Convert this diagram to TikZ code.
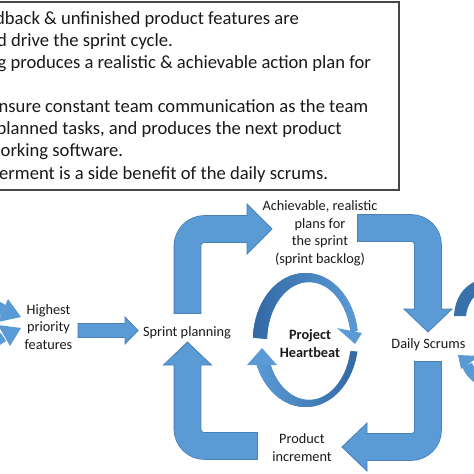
\documentclass[tikz,border=0pt]{standalone}
\usepackage{fontspec}
\setmainfont{Carlito}
\definecolor{blk}{RGB}{91,155,213}
\definecolor{blkedge}{RGB}{72,128,182}
\definecolor{blkdark}{RGB}{50,104,163}
\definecolor{boxline}{RGB}{70,70,70}
\definecolor{txt}{RGB}{25,25,25}
\tikzset{
  bandedge/.style={draw=blkedge, line width=27.6pt, rounded corners=17pt, line cap=butt, shorten <=-0.8pt},
  bandfill/.style={draw=blk, line width=26pt, rounded corners=17pt, line cap=butt, shorten >=-2pt},
  headfill/.style={fill=blk, draw=blkedge, line width=0.8pt},
  plainfill/.style={fill=blk},
  lbl/.style={font=\fontsize{14.3}{17.5}\selectfont, text=txt, align=center, inner sep=0pt, anchor=base},
  boldlbl/.style={lbl, font=\fontsize{14.3}{17.5}\selectfont\bfseries},
  boxtxt/.style={font=\fontsize{18.6}{22}\selectfont, text=txt, inner sep=0pt, anchor=base west},
  textbox/.style={draw=boxline, line width=2pt},
}
\begin{document}
\begin{tikzpicture}[x=1pt,y=-1pt]
\useasboundingbox (0,0) rectangle (474,474);
\clip (0,0) rectangle (474,474);

% ---------- text box ----------
\draw[textbox] (-20,1.5) rectangle (399,190);
\node[boxtxt] (t1) at (-5,24)    {dback \& unfinished product features are};
\node[boxtxt] (t2) at (-3,46)    {d drive the sprint cycle.};
\node[boxtxt] (t3) at (-2.5,68.3){g produces a realistic \& achievable action plan for};
\node[boxtxt] (t4) at (-1.5,112.7){nsure constant team communication as the team};
\node[boxtxt] (t5) at (-3.5,134.7){planned tasks, and produces the next product};
\node[boxtxt] (t6) at (0.5,156.7) {orking software.};
\node[boxtxt] (t7) at (-1,179)   {erment is a side benefit of the daily scrums.};

% ---------- labels (base = baseline of the last line) ----------
\node[lbl] (hpf) at (48.5,349) {Highest\\priority\\features};
\node[lbl] (sp)  at (187,336)  {Sprint planning};
\node[lbl] (ach) at (320,263)  {Achievable, realistic\\plans for\\the sprint\\(sprint backlog)};
\node[boldlbl] (hb) at (310,357) {Project\\Heartbeat};
\node[lbl] (ds)  at (428.5,348) {Daily Scrums};
\node[lbl] (pi)  at (302,461)  {Product\\increment};

% ---------- block arrows of the sprint loop ----------
\coordinate (a1s) at (187.5,313);
\coordinate (a1e) at (247,229);
\fill[headfill, shift={(a1e)}] (0,-25) -- (25,0) -- (0,25) -- cycle;
\draw[bandedge] (a1s) |- (a1e);
\draw[bandfill] (a1s) |- (a1e);

\coordinate (a2s) at (358,228);
\coordinate (a2e) at (428,309);
\fill[headfill, shift={(a2e)}] (-24,0) -- (0,23) -- (24,0) -- cycle;
\draw[bandedge] (a2s) -| (a2e);
\draw[bandfill] (a2s) -| (a2e);

\coordinate (a3s) at (428,362);
\coordinate (a3e) at (367,447);
\fill[headfill, shift={(a3e)}] (0,-24) -- (-25,0) -- (0,24) -- cycle;
\draw[bandedge] (a3s) |- (a3e);
\draw[bandfill] (a3s) |- (a3e);

\coordinate (a4s) at (257,446);
\coordinate (a4e) at (187.5,365);
\fill[headfill, shift={(a4e)}] (-24,0) -- (0,-23) -- (24,0) -- cycle;
\draw[bandedge] (a4s) -| (a4e);
\draw[bandfill] (a4s) -| (a4e);

% ---------- straight arrow: features -> sprint planning ----------
\coordinate (s1) at (78,330.5);
\coordinate (s2) at (138,330.5);
\filldraw[headfill] (s1) ++(0,-7) -- ++(47,0) -- ++(0,-6.5) -- (s2) -- ++(-13,13.5)
  -- ++(0,-6.5) -- ++(-47,0) -- cycle;

% ---------- Project Heartbeat circular arrows ----------
\fill[blk!85!blkdark, path picture={\fill[left color=blkdark, right color=blk]
    ([xshift=-2pt,yshift=-2pt]path picture bounding box.south west) rectangle ([xshift=2pt,yshift=2pt]path picture bounding box.north east);}]
  plot[domain=182:352, samples=70, variable=\t] ({305.5+52.5*cos(\t)},{340+67*sin(\t)})
  -- plot[domain=352:182, samples=70, variable=\t] ({309+42*cos(\t)},{341+59*sin(\t)}) -- cycle;
\fill[plainfill] (337,328) -- (362,333) -- (355,344) -- cycle;
\fill[blk!85!blkdark, path picture={\fill[left color=blk, right color=blkdark]
    ([xshift=-2pt,yshift=-2pt]path picture bounding box.south west) rectangle ([xshift=2pt,yshift=2pt]path picture bounding box.north east);}]
  plot[domain=10:160, samples=70, variable=\t] ({305.5+52.5*cos(\t)},{340+67*sin(\t)})
  -- plot[domain=160:10, samples=70, variable=\t] ({309+42*cos(\t)},{341+59*sin(\t)}) -- cycle;
\fill[plainfill] (247,365) -- (277,365) -- (262,348) -- cycle;

% ---------- partial circular arrow, right edge ----------
\fill[blkdark!85!blk]
  (454,316) .. controls (455,298) and (463,287) .. (476,281)
  -- (478,293) .. controls (472,298) and (467,306) .. (466,316) -- cycle;
\fill[plainfill] (458,355) -- (461,369) -- (480,356) -- cycle;
\fill[plainfill] (462,366) .. controls (465,375) and (471,381) .. (480,386)
  -- (480,372) .. controls (476,370) and (474,367) .. (472,363) -- cycle;

% ---------- partial arrows, left edge ----------
\fill[plainfill] (8,299) -- (21,317) -- (-2,322) -- cycle;
\fill[plainfill] (-15,297) .. controls (-5,299) .. (5.5,305) -- (0.5,316) .. controls (-7,312) .. (-15,310) -- cycle;
\fill[plainfill] (-2,325) -- (21,328) -- (10,346) -- cycle;
\fill[plainfill] (1,333) -- (6,341) .. controls (-3,347) .. (-15,353) -- (-15,340) .. controls (-7,338) .. (1,333) -- cycle;
\end{tikzpicture}
\end{document}
